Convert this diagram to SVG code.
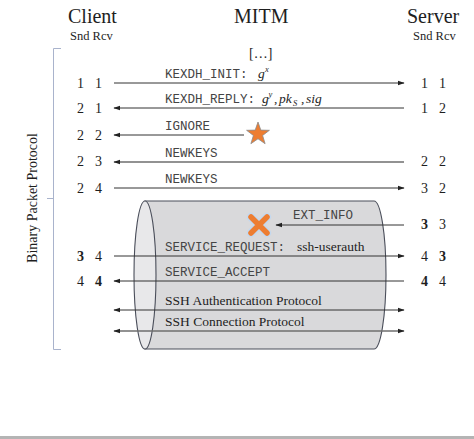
<svg xmlns="http://www.w3.org/2000/svg" width="474" height="439" viewBox="0 0 474 439">
<style>
.t{font-family:"Liberation Serif","Times New Roman",serif;fill:#1e1e1e}
.ttl{font-size:20px}
.sr{font-size:12.5px}
.n{font-size:14px}
.m{font-family:"Liberation Mono","Courier New",monospace;font-size:12.5px;fill:#444}
.s{font-family:"Liberation Serif","Times New Roman",serif;font-size:13.5px;fill:#1e1e1e}
.i{font-style:italic}
.sup{font-size:8.5px}
.b{font-weight:bold}
.ln{stroke:#333;stroke-width:1;fill:none}
.lg{stroke:#6e6e6e;stroke-width:1.6;fill:none}
</style>
<defs>
<marker id="ah" viewBox="0 0 10 10" refX="9" refY="5" markerWidth="7" markerHeight="7" markerUnits="userSpaceOnUse" orient="auto-start-reverse">
<path d="M0,1.5 L10,5 L0,8.5 Z" fill="#222"/>
</marker>
</defs>
<rect width="474" height="439" fill="#fff"/>
<line x1="0" y1="437.5" x2="474" y2="437.5" stroke="#b4b4b4" stroke-width="3"/>

<g id="headers">
<text class="t ttl" x="68" y="23">Client</text>
<text class="t ttl" x="234" y="23">MITM</text>
<text class="t ttl" x="407" y="23">Server</text>
<text class="t sr" x="70" y="40">Snd Rcv</text>
<text class="t sr" x="413" y="40">Snd Rcv</text>
<text class="t n" x="249" y="58">[…]</text>
</g>

<g id="bpp">
<path d="M61,48.5 H53.5 V349.5 H61 M53.5,198.5 H47" fill="none" stroke="#a9b3cc" stroke-width="1"/>
<text class="t" font-size="14" transform="translate(37,198) rotate(-90)" text-anchor="middle">Binary Packet Protocol</text>
</g>

<g id="cylinder">
<path d="M145,201 H374 A12,74 0 0 1 374,349 H145 Z" fill="#d9d9db" stroke="#4a4e5a" stroke-width="1.1"/>
<ellipse cx="145" cy="275" rx="11" ry="74" fill="#e8e8ea" stroke="#4a4e5a" stroke-width="1.1"/>
</g>

<g id="counters">
<text class="t n" x="77" y="88">1</text><text class="t n" x="95" y="88">1</text>
<text class="t n" x="421" y="88">1</text><text class="t n" x="439" y="88">1</text>
<text class="t n" x="77" y="113">2</text><text class="t n" x="95" y="113">1</text>
<text class="t n" x="421" y="113">1</text><text class="t n" x="439" y="113">2</text>
<text class="t n" x="77" y="140">2</text><text class="t n" x="95" y="140">2</text>
<text class="t n" x="77" y="166">2</text><text class="t n" x="95" y="166">3</text>
<text class="t n" x="421" y="166">2</text><text class="t n" x="439" y="166">2</text>
<text class="t n" x="77" y="193">2</text><text class="t n" x="95" y="193">4</text>
<text class="t n" x="421" y="193">3</text><text class="t n" x="439" y="193">2</text>
<text class="t n b" x="421" y="229">3</text><text class="t n" x="439" y="229">3</text>
<text class="t n b" x="77" y="261">3</text><text class="t n" x="95" y="261">4</text>
<text class="t n" x="421" y="261">4</text><text class="t n b" x="439" y="261">3</text>
<text class="t n" x="77" y="286">4</text><text class="t n b" x="95" y="286">4</text>
<text class="t n b" x="421" y="286">4</text><text class="t n" x="439" y="286">4</text>
</g>

<g id="connectors">
<line class="ln" x1="114" y1="83" x2="404" y2="83" marker-end="url(#ah)"/>
<line class="ln" x1="404" y1="108" x2="114" y2="108" marker-end="url(#ah)"/>
<line class="ln" x1="244" y1="135" x2="114" y2="135" marker-end="url(#ah)"/>
<line class="lg" x1="404" y1="162" x2="114" y2="162" marker-end="url(#ah)"/>
<line class="ln" x1="114" y1="188" x2="404" y2="188" marker-end="url(#ah)"/>
<line class="ln" x1="404" y1="225" x2="276" y2="225" marker-end="url(#ah)"/>
<line class="ln" x1="114" y1="256" x2="404" y2="256" marker-end="url(#ah)"/>
<line class="ln" x1="404" y1="281" x2="114" y2="281" marker-end="url(#ah)"/>
<line class="ln" x1="114" y1="310" x2="404" y2="310" marker-start="url(#ah)" marker-end="url(#ah)"/>
<line class="lg" x1="114" y1="331" x2="404" y2="331" marker-start="url(#ah)" marker-end="url(#ah)"/>
</g>

<g id="labels">
<text class="m" x="165" y="78">KEXDH_INIT:</text>
<text class="s i" x="258" y="78" font-size="14">g</text>
<text class="s i sup" x="265" y="72">x</text>
<text class="m" x="165" y="103">KEXDH_REPLY:</text>
<text class="s i" x="262" y="103" font-size="14">g</text>
<text class="s i sup" x="268.5" y="97">y</text>
<text class="s" x="274" y="103">,</text>
<text class="s i" x="279" y="103">pk</text>
<text class="s i sup" x="293" y="106">S</text>
<text class="s" x="301" y="103">,</text>
<text class="s i" x="306" y="103">sig</text>
<text class="m" x="165" y="130">IGNORE</text>
<text class="m" x="165" y="157">NEWKEYS</text>
<text class="m" x="165" y="183">NEWKEYS</text>
<text class="m" x="293" y="219">EXT_INFO</text>
<text class="m" x="165" y="251">SERVICE_REQUEST:</text>
<text class="s" x="297" y="251">ssh-userauth</text>
<text class="m" x="165" y="276">SERVICE_ACCEPT</text>
<text class="s" x="165" y="305">SSH Authentication Protocol</text>
<text class="s" x="165" y="326">SSH Connection Protocol</text>
</g>

<g id="star">
<polygon points="258,122 260.8,130.1 269.4,130.3 262.6,135.5 265.1,143.7 258,138.8 250.9,143.7 253.4,135.5 246.6,130.3 255.2,130.1" fill="#ed7d31" stroke="#8a8a8a" stroke-width="0.8"/>
</g>

<g id="xmark">
<path d="M251,217 L267,233 M267,217 L251,233" stroke="#c4d8ee" stroke-width="8.5" fill="none" stroke-linecap="round"/>
<path d="M251,217 L267,233 M267,217 L251,233" stroke="#ed7d31" stroke-width="5.5" fill="none" stroke-linecap="round"/>
</g>
</svg>
